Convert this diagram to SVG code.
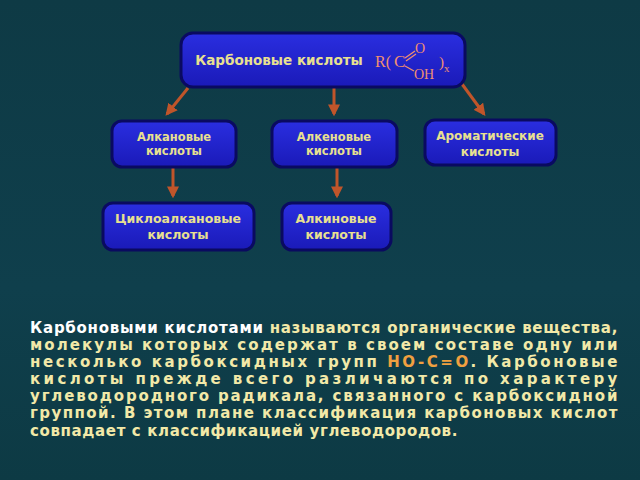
<svg xmlns="http://www.w3.org/2000/svg" width="640" height="480" viewBox="0 0 640 480">
<defs>
<linearGradient id="bg" x1="0" y1="0" x2="0" y2="1"><stop offset="0" stop-color="#0e3a45"/><stop offset="0.6" stop-color="#0f3f4c"/><stop offset="1" stop-color="#0d3a44"/></linearGradient>
<linearGradient id="bx" x1="0" y1="0" x2="0" y2="1"><stop offset="0" stop-color="#2a2ee0"/><stop offset="1" stop-color="#1a1ab8"/></linearGradient>
<marker id="ah" viewBox="0 0 10 10" refX="8" refY="5" markerWidth="4" markerHeight="4" orient="auto"><path d="M0,0 L10,5 L0,10 z" fill="#c0552a"/></marker>
</defs>
<style>
.box{fill:url(#bx);stroke:#0a0a60;stroke-width:3}
.lb{font-family:"DejaVu Sans",sans-serif;font-weight:bold;fill:#e8e090;text-anchor:middle}
.c{stroke:#c0552a;stroke-width:3;fill:none;marker-end:url(#ah)}
.t{font-family:"DejaVu Sans",sans-serif;font-size:15px;font-weight:bold;fill:#f2e9a8;letter-spacing:0.6px}
.w{fill:#ffffff}
.o{fill:#f0a040}
.f{font-family:"Liberation Serif",serif;fill:#f09070}
</style>
<rect width="640" height="480" fill="url(#bg)"/>
<g id="connectors">
<line class="c" x1="188" y1="88" x2="167" y2="114"/>
<line class="c" x1="334" y1="88" x2="334" y2="114"/>
<line class="c" x1="462" y1="84" x2="484" y2="114"/>
<line class="c" x1="173" y1="168" x2="173" y2="196"/>
<line class="c" x1="337" y1="168" x2="337" y2="196"/>
</g>
<g id="main"><rect class="box" x="181" y="33" width="284" height="54" rx="12"/>
<text class="lb" x="279" y="65" font-size="13.5">Карбоновые кислоты</text>
<text class="f" x="375" y="67" font-size="16">R(</text><text class="f" x="394" y="67" font-size="17">C</text>
<path d="M405,58 L415,51 M406,61 L416,54 M405,66 L414,71" stroke="#f09070" stroke-width="1.3"/>
<text class="f" x="415" y="53" font-size="14">O</text><text class="f" x="414" y="79" font-size="14">OH</text>
<text class="f" x="439" y="67" font-size="15">)</text><text class="f" x="444" y="72" font-size="11">x</text></g>
<g id="alkane"><rect class="box" x="112" y="121" width="124" height="46" rx="10"/>
<text class="lb" x="174" y="141" font-size="11.5">Алкановые</text><text class="lb" x="174" y="155" font-size="11.5">кислоты</text></g>
<g id="alkene"><rect class="box" x="272" y="121" width="125" height="46" rx="10"/>
<text class="lb" x="334" y="141" font-size="11.5">Алкеновые</text><text class="lb" x="334" y="155" font-size="11.5">кислоты</text></g>
<g id="arom"><rect class="box" x="425" y="120" width="131" height="45" rx="10"/>
<text class="lb" x="490" y="140" font-size="12">Ароматические</text><text class="lb" x="490" y="156" font-size="12">кислоты</text></g>
<g id="cyclo"><rect class="box" x="103" y="203" width="151" height="47" rx="10"/>
<text class="lb" x="178" y="223" font-size="12.5">Циклоалкановые</text><text class="lb" x="178" y="239" font-size="12.5">кислоты</text></g>
<g id="alkyne"><rect class="box" x="282" y="203" width="109" height="47" rx="10"/>
<text class="lb" x="336" y="223" font-size="12.5">Алкиновые</text><text class="lb" x="336" y="239" font-size="12.5">кислоты</text></g>
<g id="para">
<text class="t" x="30" y="333" textLength="588" lengthAdjust="spacing"><tspan class="w">Карбоновыми кислотами</tspan> называются органические вещества,</text>
<text class="t" x="30" y="350" textLength="588" lengthAdjust="spacing">молекулы которых содержат в своем составе одну или</text>
<text class="t" x="30" y="367" textLength="588" lengthAdjust="spacing">несколько карбоксидных групп <tspan class="o">HO-C=O</tspan>. Карбоновые</text>
<text class="t" x="30" y="384" textLength="588" lengthAdjust="spacing">кислоты прежде всего различаются по характеру</text>
<text class="t" x="30" y="401" textLength="588" lengthAdjust="spacing">углеводородного радикала, связанного с карбоксидной</text>
<text class="t" x="30" y="418" textLength="588" lengthAdjust="spacing">группой. В этом плане классификация карбоновых кислот</text>
<text class="t" x="30" y="436" textLength="428" lengthAdjust="spacing">совпадает с классификацией углеводородов.</text>
</g>
</svg>
